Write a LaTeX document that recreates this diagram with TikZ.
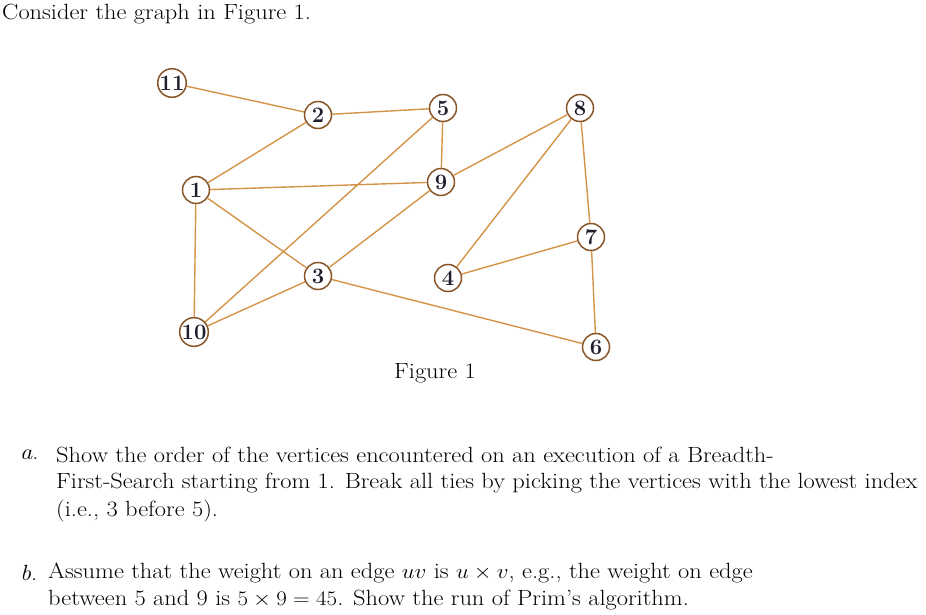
\documentclass[tikz,border=0pt]{standalone}
\definecolor{edgec}{RGB}{212,148,72}
\definecolor{ringc}{RGB}{135,85,40}
\definecolor{numc}{RGB}{30,30,45}
\begin{document}
\begin{tikzpicture}[x=1pt,y=-1pt,
  vtx/.style={circle,draw=ringc,line width=1.5pt,fill=white,minimum size=27pt,inner sep=0pt,font=\fontsize{22}{22}\selectfont\bfseries,text=numc},
  edge/.style={draw=edgec,line width=1.4pt},
  txt/.style={anchor=west,inner sep=0pt,font=\fontsize{22}{26}\selectfont,xscale=1.11,transform shape}]
\useasboundingbox (0,0) rectangle (926,615);
\node[txt] (t0) at (2,14) {Consider the graph in Figure 1.};
\node[vtx] (n11) at (172,83) {11};
\node[vtx] (n2) at (318,115) {2};
\node[vtx] (n5) at (443,108) {5};
\node[vtx] (n8) at (580,108) {8};
\node[vtx] (n1) at (196,190) {1};
\node[vtx] (n9) at (441,182) {9};
\node[vtx] (n7) at (591,237) {7};
\node[vtx] (n3) at (318,276) {3};
\node[vtx] (n4) at (448,278) {4};
\node[vtx] (n10) at (194,332) {10};
\node[vtx] (n6) at (596,347) {6};
\path[edge] (n11)--(n2) (n2)--(n5) (n2)--(n1) (n5)--(n9) (n5)--(n10)
 (n1)--(n9) (n1)--(n3) (n1)--(n10) (n9)--(n3) (n9)--(n8) (n8)--(n4)
 (n8)--(n7) (n4)--(n7) (n7)--(n6) (n3)--(n10) (n3)--(n6);
\node[txt] (cap) at (394,373) {Figure 1};
\node[txt] (la) at (20,455) {\textit{a}.};
\node[txt] (a1) at (56,455) {Show the order of the vertices encountered on an execution of a Breadth-};
\node[txt] (a2) at (56,483) {First-Search starting from 1. Break all ties by picking the vertices with the lowest index};
\node[txt] (a3) at (56,511) {(i.e., 3 before 5).};
\node[txt] (lb) at (20,573) {\textit{b}.};
\node[txt] (b1) at (48,573) {Assume that the weight on an edge $uv$ is $u\times v$, e.g., the weight on edge};
\node[txt] (b2) at (48,600) {between 5 and 9 is $5\times 9=45$. Show the run of Prim's algorithm.};
\end{tikzpicture}
\end{document}
